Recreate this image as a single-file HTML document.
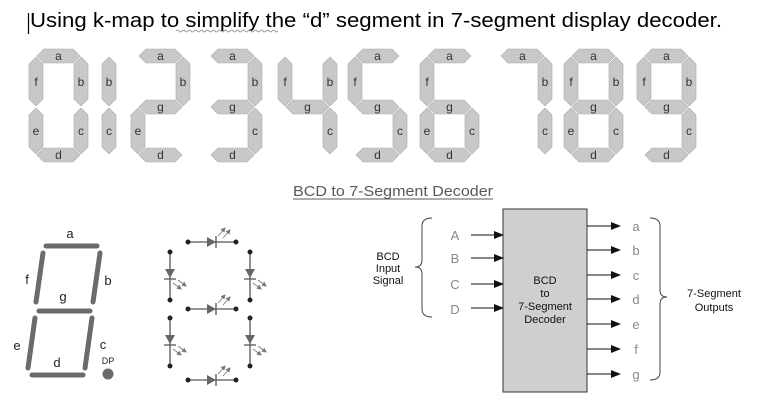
<!DOCTYPE html>
<html><head><meta charset="utf-8"><style>
html,body{margin:0;padding:0;background:#fff;}
svg{display:block;font-family:"Liberation Sans",Arial,sans-serif;}
.s{fill:#c8c8c8;stroke:#aaa;stroke-width:0.6}
.l{font-size:12px;fill:#333;text-anchor:middle}
.bar{stroke:#6b6b6b;stroke-width:5;stroke-linecap:round}
.w{stroke:#555;stroke-width:1.3}
.dot{fill:#222}
.tri{fill:#666}
</style></head><body>
<svg width="762" height="411" viewBox="0 0 762 411" xmlns="http://www.w3.org/2000/svg">
<defs>
<polygon id="A" class="s" points="8,7 15,0 44,0 51,7 44,14 15,14"/>
<polygon id="G" class="s" points="8,58 15,51 44,51 51,58 44,65 15,65"/>
<polygon id="D" class="s" points="8,106 15,99 44,99 51,106 44,113 15,113"/>
<polygon id="F" class="s" points="7,8 14,15 14,50 7,57 0,50 0,15"/>
<polygon id="E" class="s" points="7,59 14,66 14,98 7,105 0,98 0,66"/>
<polygon id="B" class="s" points="52,8 59,15 59,50 52,57 45,50 45,15"/>
<polygon id="C" class="s" points="52,59 59,66 59,98 52,105 45,98 45,66"/>
<marker id="ar" markerWidth="10" markerHeight="8" refX="9" refY="4" orient="auto" markerUnits="userSpaceOnUse"><path d="M0,0 L10,4 L0,8 z" fill="#111"/></marker>
<marker id="sa" markerWidth="5" markerHeight="5" refX="4" refY="2.5" orient="auto" markerUnits="userSpaceOnUse"><path d="M0,0 L5,2.5 L0,5 z" fill="#777"/></marker>
</defs>

<line x1="28.5" y1="13" x2="28.5" y2="34" stroke="#000" stroke-width="1.2"/>
<text x="30" y="27" font-size="20" fill="#000" textLength="692" lengthAdjust="spacingAndGlyphs">Using k-map to simplify  the “d” segment in 7-segment display decoder.</text>
<path d="M176,31 q1.5,-2 3,0 t3,0 t3,0 t3,0 t3,0 t3,0 t3,0 t3,0 t3,0 t3,0 t3,0 t3,0 t3,0 t3,0 t3,0 t3,0 t3,0 t3,0 t3,0 t3,0 t3,0 t3,0 t3,0 t3,0 t3,0 t3,0 t3,0 t3,0 t3,0 t3,0 t3,0 t3,0 t3,0 t3,0" fill="none" stroke="#888" stroke-width="0.8"/>

<g transform="translate(29,49)"><use href="#A"/><use href="#B"/><use href="#C"/><use href="#D"/><use href="#E"/><use href="#F"/>
<text class="l" x="29.5" y="11">a</text><text class="l" x="52" y="37">b</text><text class="l" x="52" y="86">c</text><text class="l" x="29.5" y="110">d</text><text class="l" x="7" y="86">e</text><text class="l" x="7" y="37">f</text></g>
<g transform="translate(57,49)"><use href="#B"/><use href="#C"/>
<text class="l" x="52" y="37">b</text><text class="l" x="52" y="86">c</text></g>
<g transform="translate(131,49)"><use href="#A"/><use href="#B"/><use href="#G"/><use href="#E"/><use href="#D"/>
<text class="l" x="29.5" y="11">a</text><text class="l" x="52" y="37">b</text><text class="l" x="29.5" y="62">g</text><text class="l" x="29.5" y="110">d</text><text class="l" x="7" y="86">e</text></g>
<g transform="translate(203,49)"><use href="#A"/><use href="#B"/><use href="#G"/><use href="#C"/><use href="#D"/>
<text class="l" x="29.5" y="11">a</text><text class="l" x="52" y="37">b</text><text class="l" x="29.5" y="62">g</text><text class="l" x="52" y="86">c</text><text class="l" x="29.5" y="110">d</text></g>
<g transform="translate(278,49)"><use href="#F"/><use href="#B"/><use href="#G"/><use href="#C"/>
<text class="l" x="7" y="37">f</text><text class="l" x="52" y="37">b</text><text class="l" x="29.5" y="62">g</text><text class="l" x="52" y="86">c</text></g>
<g transform="translate(348,49)"><use href="#A"/><use href="#F"/><use href="#G"/><use href="#C"/><use href="#D"/>
<text class="l" x="29.5" y="11">a</text><text class="l" x="7" y="37">f</text><text class="l" x="29.5" y="62">g</text><text class="l" x="52" y="86">c</text><text class="l" x="29.5" y="110">d</text></g>
<g transform="translate(420,49)"><use href="#A"/><use href="#F"/><use href="#G"/><use href="#E"/><use href="#C"/><use href="#D"/>
<text class="l" x="29.5" y="11">a</text><text class="l" x="7" y="37">f</text><text class="l" x="29.5" y="62">g</text><text class="l" x="7" y="86">e</text><text class="l" x="52" y="86">c</text><text class="l" x="29.5" y="110">d</text></g>
<g transform="translate(493,49)"><use href="#A"/><use href="#B"/><use href="#C"/>
<text class="l" x="29.5" y="11">a</text><text class="l" x="52" y="37">b</text><text class="l" x="52" y="86">c</text></g>
<g transform="translate(564,49)"><use href="#A"/><use href="#B"/><use href="#C"/><use href="#D"/><use href="#E"/><use href="#F"/><use href="#G"/>
<text class="l" x="29.5" y="11">a</text><text class="l" x="7" y="37">f</text><text class="l" x="52" y="37">b</text><text class="l" x="29.5" y="62">g</text><text class="l" x="7" y="86">e</text><text class="l" x="52" y="86">c</text><text class="l" x="29.5" y="110">d</text></g>
<g transform="translate(637,49)"><use href="#A"/><use href="#B"/><use href="#C"/><use href="#D"/><use href="#F"/><use href="#G"/>
<text class="l" x="29.5" y="11">a</text><text class="l" x="7" y="37">f</text><text class="l" x="52" y="37">b</text><text class="l" x="29.5" y="62">g</text><text class="l" x="52" y="86">c</text><text class="l" x="29.5" y="110">d</text></g>

<text x="393" y="196" font-size="15" fill="#595959" text-anchor="middle" textLength="200" lengthAdjust="spacingAndGlyphs">BCD to 7-Segment Decoder</text>
<line x1="293" y1="199" x2="493" y2="199" stroke="#595959" stroke-width="1"/>

<line class="bar" x1="46" y1="246" x2="97" y2="246"/>
<line class="bar" x1="43" y1="253" x2="36" y2="302"/>
<line class="bar" x1="100" y1="253" x2="93" y2="302"/>
<line class="bar" x1="39" y1="311" x2="90" y2="311"/>
<line class="bar" x1="35" y1="318" x2="28" y2="368"/>
<line class="bar" x1="92" y1="318" x2="85" y2="368"/>
<line class="bar" x1="32" y1="375" x2="83" y2="375"/>
<circle cx="108" cy="374" r="5.5" fill="#6b6b6b"/>
<g font-size="13" fill="#222" text-anchor="middle">
<text x="70" y="238">a</text><text x="27" y="284">f</text><text x="108" y="285">b</text><text x="63" y="301">g</text><text x="17" y="350">e</text><text x="103" y="349">c</text><text x="57" y="367">d</text></g>
<text x="108" y="364" font-size="9" fill="#222" text-anchor="middle">DP</text>

<g id="hled">
<line class="w" x1="188" y1="242" x2="236" y2="242"/>
<polygon class="tri" points="207,237 207,247 216,242"/>
<line class="w" x1="216" y1="236" x2="216" y2="248"/>
<line stroke="#777" stroke-width="0.8" x1="218" y1="236" x2="225" y2="228" marker-end="url(#sa)"/>
<line stroke="#777" stroke-width="0.8" x1="223" y1="238" x2="230" y2="230" marker-end="url(#sa)"/>
<circle class="dot" cx="188" cy="242" r="2.5"/><circle class="dot" cx="236" cy="242" r="2.5"/>
</g>
<use href="#hled" transform="translate(0,67)"/>
<use href="#hled" transform="translate(0,138)"/>
<g id="vled">
<line class="w" x1="170" y1="252" x2="170" y2="300"/>
<polygon class="tri" points="165,269 175,269 170,278"/>
<line class="w" x1="164" y1="279" x2="176" y2="279"/>
<line stroke="#777" stroke-width="0.8" x1="173" y1="283" x2="181" y2="289" marker-end="url(#sa)"/>
<line stroke="#777" stroke-width="0.8" x1="178" y1="280" x2="186" y2="286" marker-end="url(#sa)"/>
<circle class="dot" cx="170" cy="252" r="2.5"/><circle class="dot" cx="170" cy="300" r="2.5"/>
</g>
<use href="#vled" transform="translate(80,0)"/>
<use href="#vled" transform="translate(0,66)"/>
<use href="#vled" transform="translate(80,66)"/>

<rect x="503" y="209" width="84" height="183" fill="#cfcfcf" stroke="#333" stroke-width="1"/>
<g font-size="11" fill="#111" text-anchor="middle">
<text x="545" y="284">BCD</text><text x="545" y="297">to</text><text x="545" y="310">7-Segment</text><text x="545" y="323">Decoder</text>
<text x="388" y="260">BCD</text><text x="388" y="272">Input</text><text x="388" y="284">Signal</text>
<text x="714" y="297">7-Segment</text><text x="714" y="311">Outputs</text></g>
<g font-size="13" fill="#888" text-anchor="middle">
<text x="455" y="240">A</text><text x="455" y="263">B</text><text x="455" y="289">C</text><text x="455" y="314">D</text>
<text x="636" y="231">a</text><text x="636" y="255">b</text><text x="636" y="280">c</text><text x="636" y="304">d</text><text x="636" y="329">e</text><text x="636" y="354">f</text><text x="636" y="379">g</text></g>
<g stroke="#111" stroke-width="1" marker-end="url(#ar)">
<line x1="471" y1="235" x2="503" y2="235"/><line x1="471" y1="258" x2="503" y2="258"/><line x1="471" y1="284" x2="503" y2="284"/><line x1="471" y1="308" x2="503" y2="308"/>
<line x1="587" y1="226" x2="620" y2="226"/><line x1="587" y1="250" x2="620" y2="250"/><line x1="587" y1="275" x2="620" y2="275"/><line x1="587" y1="299" x2="620" y2="299"/><line x1="587" y1="324" x2="620" y2="324"/><line x1="587" y1="349" x2="620" y2="349"/><line x1="587" y1="374" x2="620" y2="374"/>
</g>
<path d="M432,218 Q422,218 422,226 L422,260 Q422,267 415,267 Q422,267 422,274 L422,309 Q422,317 432,317" fill="none" stroke="#444" stroke-width="1"/>
<path d="M650,218 Q660,218 660,226 L660,290 Q660,297 667,297 Q660,297 660,304 L660,372 Q660,380 650,380" fill="none" stroke="#444" stroke-width="1"/>
</svg>
</body></html>
